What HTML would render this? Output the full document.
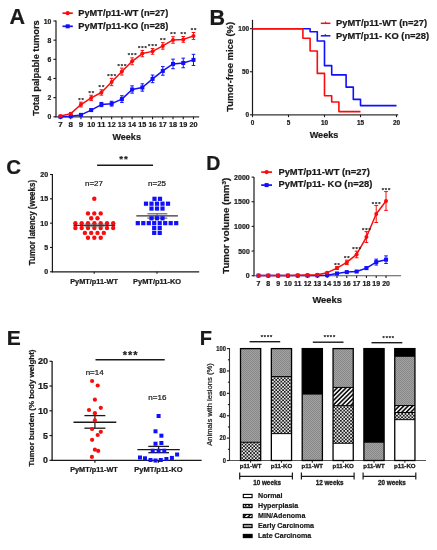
<!DOCTYPE html>
<html><head><meta charset="utf-8"><title>Figure</title>
<style>
html,body{margin:0;padding:0;background:#fff;}
body{width:437px;height:550px;overflow:hidden;}
svg{display:block;font-family:"Liberation Sans", sans-serif;filter:blur(0.45px);}
</style></head>
<body>
<svg width="437" height="550" viewBox="0 0 437 550">
<rect width="437" height="550" fill="#fff"/>
<text x="9.40" y="24.20" font-size="21.5" font-weight="bold" text-anchor="start" fill="#1a1a1a" stroke="#1a1a1a" stroke-width="0.22">A</text>
<line x1="56.00" y1="20.60" x2="56.00" y2="117.30" stroke="#1a1a1a" stroke-width="1.2"/>
<line x1="55.40" y1="116.80" x2="199.20" y2="116.80" stroke="#333" stroke-width="1.2"/>
<line x1="53.40" y1="116.80" x2="56.00" y2="116.80" stroke="#1a1a1a" stroke-width="1.1"/>
<text x="51.20" y="119.30" font-size="6.8" font-weight="bold" text-anchor="end" fill="#1a1a1a" stroke="#1a1a1a" stroke-width="0.22">0</text>
<line x1="53.40" y1="97.64" x2="56.00" y2="97.64" stroke="#1a1a1a" stroke-width="1.1"/>
<text x="51.20" y="100.14" font-size="6.8" font-weight="bold" text-anchor="end" fill="#1a1a1a" stroke="#1a1a1a" stroke-width="0.22">2</text>
<line x1="53.40" y1="78.48" x2="56.00" y2="78.48" stroke="#1a1a1a" stroke-width="1.1"/>
<text x="51.20" y="80.98" font-size="6.8" font-weight="bold" text-anchor="end" fill="#1a1a1a" stroke="#1a1a1a" stroke-width="0.22">4</text>
<line x1="53.40" y1="59.32" x2="56.00" y2="59.32" stroke="#1a1a1a" stroke-width="1.1"/>
<text x="51.20" y="61.82" font-size="6.8" font-weight="bold" text-anchor="end" fill="#1a1a1a" stroke="#1a1a1a" stroke-width="0.22">6</text>
<line x1="53.40" y1="40.16" x2="56.00" y2="40.16" stroke="#1a1a1a" stroke-width="1.1"/>
<text x="51.20" y="42.66" font-size="6.8" font-weight="bold" text-anchor="end" fill="#1a1a1a" stroke="#1a1a1a" stroke-width="0.22">8</text>
<line x1="53.40" y1="21.00" x2="56.00" y2="21.00" stroke="#1a1a1a" stroke-width="1.1"/>
<text x="51.20" y="23.50" font-size="6.8" font-weight="bold" text-anchor="end" fill="#1a1a1a" stroke="#1a1a1a" stroke-width="0.22">10</text>
<line x1="60.50" y1="116.80" x2="60.50" y2="119.20" stroke="#1a1a1a" stroke-width="1.1"/>
<text x="60.50" y="127.20" font-size="8.0" font-weight="bold" text-anchor="middle" fill="#1a1a1a" stroke="#1a1a1a" stroke-width="0.22">7</text>
<line x1="70.73" y1="116.80" x2="70.73" y2="119.20" stroke="#1a1a1a" stroke-width="1.1"/>
<text x="70.73" y="127.20" font-size="8.0" font-weight="bold" text-anchor="middle" fill="#1a1a1a" stroke="#1a1a1a" stroke-width="0.22">8</text>
<line x1="80.96" y1="116.80" x2="80.96" y2="119.20" stroke="#1a1a1a" stroke-width="1.1"/>
<text x="80.96" y="127.20" font-size="8.0" font-weight="bold" text-anchor="middle" fill="#1a1a1a" stroke="#1a1a1a" stroke-width="0.22">9</text>
<line x1="91.19" y1="116.80" x2="91.19" y2="119.20" stroke="#1a1a1a" stroke-width="1.1"/>
<text x="91.19" y="127.20" font-size="8.0" font-weight="bold" text-anchor="middle" fill="#1a1a1a" stroke="#1a1a1a" stroke-width="0.22" textLength="8.1" lengthAdjust="spacingAndGlyphs">10</text>
<line x1="101.42" y1="116.80" x2="101.42" y2="119.20" stroke="#1a1a1a" stroke-width="1.1"/>
<text x="101.42" y="127.20" font-size="8.0" font-weight="bold" text-anchor="middle" fill="#1a1a1a" stroke="#1a1a1a" stroke-width="0.22" textLength="8.1" lengthAdjust="spacingAndGlyphs">11</text>
<line x1="111.65" y1="116.80" x2="111.65" y2="119.20" stroke="#1a1a1a" stroke-width="1.1"/>
<text x="111.65" y="127.20" font-size="8.0" font-weight="bold" text-anchor="middle" fill="#1a1a1a" stroke="#1a1a1a" stroke-width="0.22" textLength="8.1" lengthAdjust="spacingAndGlyphs">12</text>
<line x1="121.88" y1="116.80" x2="121.88" y2="119.20" stroke="#1a1a1a" stroke-width="1.1"/>
<text x="121.88" y="127.20" font-size="8.0" font-weight="bold" text-anchor="middle" fill="#1a1a1a" stroke="#1a1a1a" stroke-width="0.22" textLength="8.1" lengthAdjust="spacingAndGlyphs">13</text>
<line x1="132.11" y1="116.80" x2="132.11" y2="119.20" stroke="#1a1a1a" stroke-width="1.1"/>
<text x="132.11" y="127.20" font-size="8.0" font-weight="bold" text-anchor="middle" fill="#1a1a1a" stroke="#1a1a1a" stroke-width="0.22" textLength="8.1" lengthAdjust="spacingAndGlyphs">14</text>
<line x1="142.34" y1="116.80" x2="142.34" y2="119.20" stroke="#1a1a1a" stroke-width="1.1"/>
<text x="142.34" y="127.20" font-size="8.0" font-weight="bold" text-anchor="middle" fill="#1a1a1a" stroke="#1a1a1a" stroke-width="0.22" textLength="8.1" lengthAdjust="spacingAndGlyphs">15</text>
<line x1="152.57" y1="116.80" x2="152.57" y2="119.20" stroke="#1a1a1a" stroke-width="1.1"/>
<text x="152.57" y="127.20" font-size="8.0" font-weight="bold" text-anchor="middle" fill="#1a1a1a" stroke="#1a1a1a" stroke-width="0.22" textLength="8.1" lengthAdjust="spacingAndGlyphs">16</text>
<line x1="162.80" y1="116.80" x2="162.80" y2="119.20" stroke="#1a1a1a" stroke-width="1.1"/>
<text x="162.80" y="127.20" font-size="8.0" font-weight="bold" text-anchor="middle" fill="#1a1a1a" stroke="#1a1a1a" stroke-width="0.22" textLength="8.1" lengthAdjust="spacingAndGlyphs">17</text>
<line x1="173.03" y1="116.80" x2="173.03" y2="119.20" stroke="#1a1a1a" stroke-width="1.1"/>
<text x="173.03" y="127.20" font-size="8.0" font-weight="bold" text-anchor="middle" fill="#1a1a1a" stroke="#1a1a1a" stroke-width="0.22" textLength="8.1" lengthAdjust="spacingAndGlyphs">18</text>
<line x1="183.26" y1="116.80" x2="183.26" y2="119.20" stroke="#1a1a1a" stroke-width="1.1"/>
<text x="183.26" y="127.20" font-size="8.0" font-weight="bold" text-anchor="middle" fill="#1a1a1a" stroke="#1a1a1a" stroke-width="0.22" textLength="8.1" lengthAdjust="spacingAndGlyphs">19</text>
<line x1="193.49" y1="116.80" x2="193.49" y2="119.20" stroke="#1a1a1a" stroke-width="1.1"/>
<text x="193.49" y="127.20" font-size="8.0" font-weight="bold" text-anchor="middle" fill="#1a1a1a" stroke="#1a1a1a" stroke-width="0.22" textLength="8.1" lengthAdjust="spacingAndGlyphs">20</text>
<text x="126.70" y="139.80" font-size="9.3" font-weight="bold" text-anchor="middle" fill="#1a1a1a" stroke="#1a1a1a" stroke-width="0.22" textLength="28.5" lengthAdjust="spacingAndGlyphs">Weeks</text>
<text x="39.00" y="68.00" font-size="9.2" font-weight="bold" text-anchor="middle" fill="#1a1a1a" stroke="#1a1a1a" stroke-width="0.22" textLength="95.5" lengthAdjust="spacingAndGlyphs" transform="rotate(-90 39.00 68.00)">Total palpable tumors</text>
<polyline points="60.50,116.80 70.73,116.32 80.96,114.88 91.19,110.09 101.42,104.54 111.65,103.68 121.88,99.08 132.11,89.50 142.34,87.49 152.57,78.86 162.80,70.91 173.03,63.92 183.26,62.96 193.49,59.89" fill="none" stroke="#1010fc" stroke-width="1.5" stroke-linejoin="round"/>
<line x1="60.50" y1="116.61" x2="60.50" y2="116.99" stroke="#1010fc" stroke-width="1.0"/>
<line x1="58.70" y1="116.61" x2="62.30" y2="116.61" stroke="#1010fc" stroke-width="1.0"/>
<line x1="58.70" y1="116.99" x2="62.30" y2="116.99" stroke="#1010fc" stroke-width="1.0"/>
<rect x="58.50" y="114.80" width="4.0" height="4.0" fill="#1010fc"/>
<line x1="70.73" y1="115.84" x2="70.73" y2="116.80" stroke="#1010fc" stroke-width="1.0"/>
<line x1="68.93" y1="115.84" x2="72.53" y2="115.84" stroke="#1010fc" stroke-width="1.0"/>
<line x1="68.93" y1="116.80" x2="72.53" y2="116.80" stroke="#1010fc" stroke-width="1.0"/>
<rect x="68.73" y="114.32" width="4.0" height="4.0" fill="#1010fc"/>
<line x1="80.96" y1="114.12" x2="80.96" y2="115.65" stroke="#1010fc" stroke-width="1.0"/>
<line x1="79.16" y1="114.12" x2="82.76" y2="114.12" stroke="#1010fc" stroke-width="1.0"/>
<line x1="79.16" y1="115.65" x2="82.76" y2="115.65" stroke="#1010fc" stroke-width="1.0"/>
<rect x="78.96" y="112.88" width="4.0" height="4.0" fill="#1010fc"/>
<line x1="91.19" y1="108.94" x2="91.19" y2="111.24" stroke="#1010fc" stroke-width="1.0"/>
<line x1="89.39" y1="108.94" x2="92.99" y2="108.94" stroke="#1010fc" stroke-width="1.0"/>
<line x1="89.39" y1="111.24" x2="92.99" y2="111.24" stroke="#1010fc" stroke-width="1.0"/>
<rect x="89.19" y="108.09" width="4.0" height="4.0" fill="#1010fc"/>
<line x1="101.42" y1="102.43" x2="101.42" y2="106.65" stroke="#1010fc" stroke-width="1.0"/>
<line x1="99.62" y1="102.43" x2="103.22" y2="102.43" stroke="#1010fc" stroke-width="1.0"/>
<line x1="99.62" y1="106.65" x2="103.22" y2="106.65" stroke="#1010fc" stroke-width="1.0"/>
<rect x="99.42" y="102.54" width="4.0" height="4.0" fill="#1010fc"/>
<line x1="111.65" y1="101.28" x2="111.65" y2="106.07" stroke="#1010fc" stroke-width="1.0"/>
<line x1="109.85" y1="101.28" x2="113.45" y2="101.28" stroke="#1010fc" stroke-width="1.0"/>
<line x1="109.85" y1="106.07" x2="113.45" y2="106.07" stroke="#1010fc" stroke-width="1.0"/>
<rect x="109.65" y="101.68" width="4.0" height="4.0" fill="#1010fc"/>
<line x1="121.88" y1="95.72" x2="121.88" y2="102.43" stroke="#1010fc" stroke-width="1.0"/>
<line x1="120.08" y1="95.72" x2="123.68" y2="95.72" stroke="#1010fc" stroke-width="1.0"/>
<line x1="120.08" y1="102.43" x2="123.68" y2="102.43" stroke="#1010fc" stroke-width="1.0"/>
<rect x="119.88" y="97.08" width="4.0" height="4.0" fill="#1010fc"/>
<line x1="132.11" y1="85.86" x2="132.11" y2="93.14" stroke="#1010fc" stroke-width="1.0"/>
<line x1="130.31" y1="85.86" x2="133.91" y2="85.86" stroke="#1010fc" stroke-width="1.0"/>
<line x1="130.31" y1="93.14" x2="133.91" y2="93.14" stroke="#1010fc" stroke-width="1.0"/>
<rect x="130.11" y="87.50" width="4.0" height="4.0" fill="#1010fc"/>
<line x1="142.34" y1="83.84" x2="142.34" y2="91.13" stroke="#1010fc" stroke-width="1.0"/>
<line x1="140.54" y1="83.84" x2="144.14" y2="83.84" stroke="#1010fc" stroke-width="1.0"/>
<line x1="140.54" y1="91.13" x2="144.14" y2="91.13" stroke="#1010fc" stroke-width="1.0"/>
<rect x="140.34" y="85.49" width="4.0" height="4.0" fill="#1010fc"/>
<line x1="152.57" y1="75.03" x2="152.57" y2="82.70" stroke="#1010fc" stroke-width="1.0"/>
<line x1="150.77" y1="75.03" x2="154.37" y2="75.03" stroke="#1010fc" stroke-width="1.0"/>
<line x1="150.77" y1="82.70" x2="154.37" y2="82.70" stroke="#1010fc" stroke-width="1.0"/>
<rect x="150.57" y="76.86" width="4.0" height="4.0" fill="#1010fc"/>
<line x1="162.80" y1="66.60" x2="162.80" y2="75.22" stroke="#1010fc" stroke-width="1.0"/>
<line x1="161.00" y1="66.60" x2="164.60" y2="66.60" stroke="#1010fc" stroke-width="1.0"/>
<line x1="161.00" y1="75.22" x2="164.60" y2="75.22" stroke="#1010fc" stroke-width="1.0"/>
<rect x="160.80" y="68.91" width="4.0" height="4.0" fill="#1010fc"/>
<line x1="173.03" y1="59.13" x2="173.03" y2="68.71" stroke="#1010fc" stroke-width="1.0"/>
<line x1="171.23" y1="59.13" x2="174.83" y2="59.13" stroke="#1010fc" stroke-width="1.0"/>
<line x1="171.23" y1="68.71" x2="174.83" y2="68.71" stroke="#1010fc" stroke-width="1.0"/>
<rect x="171.03" y="61.92" width="4.0" height="4.0" fill="#1010fc"/>
<line x1="183.26" y1="58.17" x2="183.26" y2="67.75" stroke="#1010fc" stroke-width="1.0"/>
<line x1="181.46" y1="58.17" x2="185.06" y2="58.17" stroke="#1010fc" stroke-width="1.0"/>
<line x1="181.46" y1="67.75" x2="185.06" y2="67.75" stroke="#1010fc" stroke-width="1.0"/>
<rect x="181.26" y="60.96" width="4.0" height="4.0" fill="#1010fc"/>
<line x1="193.49" y1="54.34" x2="193.49" y2="65.45" stroke="#1010fc" stroke-width="1.0"/>
<line x1="191.69" y1="54.34" x2="195.29" y2="54.34" stroke="#1010fc" stroke-width="1.0"/>
<line x1="191.69" y1="65.45" x2="195.29" y2="65.45" stroke="#1010fc" stroke-width="1.0"/>
<rect x="191.49" y="57.89" width="4.0" height="4.0" fill="#1010fc"/>
<polyline points="60.50,116.03 70.73,113.64 80.96,104.54 91.19,97.93 101.42,92.47 111.65,82.02 121.88,71.58 132.11,61.33 142.34,53.57 152.57,51.37 162.80,45.91 173.03,39.97 183.26,39.39 193.49,35.94" fill="none" stroke="#fa0c0c" stroke-width="1.5" stroke-linejoin="round"/>
<line x1="60.50" y1="115.55" x2="60.50" y2="116.51" stroke="#fa0c0c" stroke-width="1.0"/>
<line x1="58.70" y1="115.55" x2="62.30" y2="115.55" stroke="#fa0c0c" stroke-width="1.0"/>
<line x1="58.70" y1="116.51" x2="62.30" y2="116.51" stroke="#fa0c0c" stroke-width="1.0"/>
<circle cx="60.50" cy="116.03" r="2.0" fill="#fa0c0c"/>
<line x1="70.73" y1="112.68" x2="70.73" y2="114.60" stroke="#fa0c0c" stroke-width="1.0"/>
<line x1="68.93" y1="112.68" x2="72.53" y2="112.68" stroke="#fa0c0c" stroke-width="1.0"/>
<line x1="68.93" y1="114.60" x2="72.53" y2="114.60" stroke="#fa0c0c" stroke-width="1.0"/>
<circle cx="70.73" cy="113.64" r="2.0" fill="#fa0c0c"/>
<line x1="80.96" y1="102.14" x2="80.96" y2="106.93" stroke="#fa0c0c" stroke-width="1.0"/>
<line x1="79.16" y1="102.14" x2="82.76" y2="102.14" stroke="#fa0c0c" stroke-width="1.0"/>
<line x1="79.16" y1="106.93" x2="82.76" y2="106.93" stroke="#fa0c0c" stroke-width="1.0"/>
<circle cx="80.96" cy="104.54" r="2.0" fill="#fa0c0c"/>
<text x="78.16" y="101.60" font-size="5.9" font-weight="bold" fill="#2a2a2a" stroke="#2a2a2a" stroke-width="0.2" letter-spacing="1.00">**</text>
<line x1="91.19" y1="95.25" x2="91.19" y2="100.61" stroke="#fa0c0c" stroke-width="1.0"/>
<line x1="89.39" y1="95.25" x2="92.99" y2="95.25" stroke="#fa0c0c" stroke-width="1.0"/>
<line x1="89.39" y1="100.61" x2="92.99" y2="100.61" stroke="#fa0c0c" stroke-width="1.0"/>
<circle cx="91.19" cy="97.93" r="2.0" fill="#fa0c0c"/>
<text x="88.39" y="94.71" font-size="5.9" font-weight="bold" fill="#2a2a2a" stroke="#2a2a2a" stroke-width="0.2" letter-spacing="1.00">**</text>
<line x1="101.42" y1="89.78" x2="101.42" y2="95.15" stroke="#fa0c0c" stroke-width="1.0"/>
<line x1="99.62" y1="89.78" x2="103.22" y2="89.78" stroke="#fa0c0c" stroke-width="1.0"/>
<line x1="99.62" y1="95.15" x2="103.22" y2="95.15" stroke="#fa0c0c" stroke-width="1.0"/>
<circle cx="101.42" cy="92.47" r="2.0" fill="#fa0c0c"/>
<text x="98.62" y="89.25" font-size="5.9" font-weight="bold" fill="#2a2a2a" stroke="#2a2a2a" stroke-width="0.2" letter-spacing="1.00">**</text>
<line x1="111.65" y1="78.38" x2="111.65" y2="85.66" stroke="#fa0c0c" stroke-width="1.0"/>
<line x1="109.85" y1="78.38" x2="113.45" y2="78.38" stroke="#fa0c0c" stroke-width="1.0"/>
<line x1="109.85" y1="85.66" x2="113.45" y2="85.66" stroke="#fa0c0c" stroke-width="1.0"/>
<circle cx="111.65" cy="82.02" r="2.0" fill="#fa0c0c"/>
<text x="107.20" y="77.85" font-size="5.9" font-weight="bold" fill="#2a2a2a" stroke="#2a2a2a" stroke-width="0.2" letter-spacing="1.00">***</text>
<line x1="121.88" y1="68.13" x2="121.88" y2="75.03" stroke="#fa0c0c" stroke-width="1.0"/>
<line x1="120.08" y1="68.13" x2="123.68" y2="68.13" stroke="#fa0c0c" stroke-width="1.0"/>
<line x1="120.08" y1="75.03" x2="123.68" y2="75.03" stroke="#fa0c0c" stroke-width="1.0"/>
<circle cx="121.88" cy="71.58" r="2.0" fill="#fa0c0c"/>
<text x="117.43" y="67.60" font-size="5.9" font-weight="bold" fill="#2a2a2a" stroke="#2a2a2a" stroke-width="0.2" letter-spacing="1.00">***</text>
<line x1="132.11" y1="57.88" x2="132.11" y2="64.78" stroke="#fa0c0c" stroke-width="1.0"/>
<line x1="130.31" y1="57.88" x2="133.91" y2="57.88" stroke="#fa0c0c" stroke-width="1.0"/>
<line x1="130.31" y1="64.78" x2="133.91" y2="64.78" stroke="#fa0c0c" stroke-width="1.0"/>
<circle cx="132.11" cy="61.33" r="2.0" fill="#fa0c0c"/>
<text x="127.66" y="57.34" font-size="5.9" font-weight="bold" fill="#2a2a2a" stroke="#2a2a2a" stroke-width="0.2" letter-spacing="1.00">***</text>
<line x1="142.34" y1="50.41" x2="142.34" y2="56.73" stroke="#fa0c0c" stroke-width="1.0"/>
<line x1="140.54" y1="50.41" x2="144.14" y2="50.41" stroke="#fa0c0c" stroke-width="1.0"/>
<line x1="140.54" y1="56.73" x2="144.14" y2="56.73" stroke="#fa0c0c" stroke-width="1.0"/>
<circle cx="142.34" cy="53.57" r="2.0" fill="#fa0c0c"/>
<text x="137.89" y="49.87" font-size="5.9" font-weight="bold" fill="#2a2a2a" stroke="#2a2a2a" stroke-width="0.2" letter-spacing="1.00">***</text>
<line x1="152.57" y1="48.49" x2="152.57" y2="54.24" stroke="#fa0c0c" stroke-width="1.0"/>
<line x1="150.77" y1="48.49" x2="154.37" y2="48.49" stroke="#fa0c0c" stroke-width="1.0"/>
<line x1="150.77" y1="54.24" x2="154.37" y2="54.24" stroke="#fa0c0c" stroke-width="1.0"/>
<circle cx="152.57" cy="51.37" r="2.0" fill="#fa0c0c"/>
<text x="148.12" y="47.96" font-size="5.9" font-weight="bold" fill="#2a2a2a" stroke="#2a2a2a" stroke-width="0.2" letter-spacing="1.00">***</text>
<line x1="162.80" y1="42.65" x2="162.80" y2="49.17" stroke="#fa0c0c" stroke-width="1.0"/>
<line x1="161.00" y1="42.65" x2="164.60" y2="42.65" stroke="#fa0c0c" stroke-width="1.0"/>
<line x1="161.00" y1="49.17" x2="164.60" y2="49.17" stroke="#fa0c0c" stroke-width="1.0"/>
<circle cx="162.80" cy="45.91" r="2.0" fill="#fa0c0c"/>
<text x="160.00" y="42.11" font-size="5.9" font-weight="bold" fill="#2a2a2a" stroke="#2a2a2a" stroke-width="0.2" letter-spacing="1.00">**</text>
<line x1="173.03" y1="36.71" x2="173.03" y2="43.23" stroke="#fa0c0c" stroke-width="1.0"/>
<line x1="171.23" y1="36.71" x2="174.83" y2="36.71" stroke="#fa0c0c" stroke-width="1.0"/>
<line x1="171.23" y1="43.23" x2="174.83" y2="43.23" stroke="#fa0c0c" stroke-width="1.0"/>
<circle cx="173.03" cy="39.97" r="2.0" fill="#fa0c0c"/>
<text x="170.23" y="36.17" font-size="5.9" font-weight="bold" fill="#2a2a2a" stroke="#2a2a2a" stroke-width="0.2" letter-spacing="1.00">**</text>
<line x1="183.26" y1="36.52" x2="183.26" y2="42.27" stroke="#fa0c0c" stroke-width="1.0"/>
<line x1="181.46" y1="36.52" x2="185.06" y2="36.52" stroke="#fa0c0c" stroke-width="1.0"/>
<line x1="181.46" y1="42.27" x2="185.06" y2="42.27" stroke="#fa0c0c" stroke-width="1.0"/>
<circle cx="183.26" cy="39.39" r="2.0" fill="#fa0c0c"/>
<text x="180.46" y="35.98" font-size="5.9" font-weight="bold" fill="#2a2a2a" stroke="#2a2a2a" stroke-width="0.2" letter-spacing="1.00">**</text>
<line x1="193.49" y1="32.50" x2="193.49" y2="39.39" stroke="#fa0c0c" stroke-width="1.0"/>
<line x1="191.69" y1="32.50" x2="195.29" y2="32.50" stroke="#fa0c0c" stroke-width="1.0"/>
<line x1="191.69" y1="39.39" x2="195.29" y2="39.39" stroke="#fa0c0c" stroke-width="1.0"/>
<circle cx="193.49" cy="35.94" r="2.0" fill="#fa0c0c"/>
<text x="190.69" y="31.96" font-size="5.9" font-weight="bold" fill="#2a2a2a" stroke="#2a2a2a" stroke-width="0.2" letter-spacing="1.00">**</text>
<line x1="62.50" y1="13.20" x2="72.80" y2="13.20" stroke="#fa0c0c" stroke-width="1.7"/>
<circle cx="67.70" cy="13.20" r="2.1" fill="#fa0c0c"/>
<text x="78.30" y="15.90" font-size="9.0" font-weight="bold" text-anchor="start" fill="#1a1a1a" stroke="#1a1a1a" stroke-width="0.22" textLength="90" lengthAdjust="spacingAndGlyphs">PyMT/p11-WT (n=27)</text>
<line x1="62.50" y1="26.30" x2="72.80" y2="26.30" stroke="#1010fc" stroke-width="1.7"/>
<rect x="65.70" y="24.30" width="4.0" height="4.0" fill="#1010fc"/>
<text x="78.30" y="28.70" font-size="9.0" font-weight="bold" text-anchor="start" fill="#1a1a1a" stroke="#1a1a1a" stroke-width="0.22" textLength="90" lengthAdjust="spacingAndGlyphs">PyMT/p11-KO (n=28)</text>
<text x="209.40" y="24.60" font-size="21.5" font-weight="bold" text-anchor="start" fill="#1a1a1a" stroke="#1a1a1a" stroke-width="0.22">B</text>
<line x1="252.50" y1="19.80" x2="252.50" y2="115.30" stroke="#1a1a1a" stroke-width="1.2"/>
<line x1="251.90" y1="114.80" x2="398.20" y2="114.80" stroke="#333" stroke-width="1.2"/>
<line x1="249.90" y1="114.80" x2="252.50" y2="114.80" stroke="#1a1a1a" stroke-width="1.1"/>
<text x="249.00" y="117.00" font-size="6.4" font-weight="bold" text-anchor="end" fill="#1a1a1a" stroke="#1a1a1a" stroke-width="0.22">0</text>
<line x1="249.90" y1="71.75" x2="252.50" y2="71.75" stroke="#1a1a1a" stroke-width="1.1"/>
<text x="249.00" y="73.95" font-size="6.4" font-weight="bold" text-anchor="end" fill="#1a1a1a" stroke="#1a1a1a" stroke-width="0.22">50</text>
<line x1="249.90" y1="28.70" x2="252.50" y2="28.70" stroke="#1a1a1a" stroke-width="1.1"/>
<text x="249.00" y="30.90" font-size="6.4" font-weight="bold" text-anchor="end" fill="#1a1a1a" stroke="#1a1a1a" stroke-width="0.22">100</text>
<line x1="252.50" y1="114.80" x2="252.50" y2="117.20" stroke="#1a1a1a" stroke-width="1.1"/>
<text x="252.50" y="125.00" font-size="6.4" font-weight="bold" text-anchor="middle" fill="#1a1a1a" stroke="#1a1a1a" stroke-width="0.22">0</text>
<line x1="288.50" y1="114.80" x2="288.50" y2="117.20" stroke="#1a1a1a" stroke-width="1.1"/>
<text x="288.50" y="125.00" font-size="6.4" font-weight="bold" text-anchor="middle" fill="#1a1a1a" stroke="#1a1a1a" stroke-width="0.22">5</text>
<line x1="324.50" y1="114.80" x2="324.50" y2="117.20" stroke="#1a1a1a" stroke-width="1.1"/>
<text x="324.50" y="125.00" font-size="6.4" font-weight="bold" text-anchor="middle" fill="#1a1a1a" stroke="#1a1a1a" stroke-width="0.22">10</text>
<line x1="360.50" y1="114.80" x2="360.50" y2="117.20" stroke="#1a1a1a" stroke-width="1.1"/>
<text x="360.50" y="125.00" font-size="6.4" font-weight="bold" text-anchor="middle" fill="#1a1a1a" stroke="#1a1a1a" stroke-width="0.22">15</text>
<line x1="396.50" y1="114.80" x2="396.50" y2="117.20" stroke="#1a1a1a" stroke-width="1.1"/>
<text x="396.50" y="125.00" font-size="6.4" font-weight="bold" text-anchor="middle" fill="#1a1a1a" stroke="#1a1a1a" stroke-width="0.22">20</text>
<text x="324.00" y="138.00" font-size="9.3" font-weight="bold" text-anchor="middle" fill="#1a1a1a" stroke="#1a1a1a" stroke-width="0.22" textLength="28.6" lengthAdjust="spacingAndGlyphs">Weeks</text>
<text x="233.00" y="66.80" font-size="9.0" font-weight="bold" text-anchor="middle" fill="#1a1a1a" stroke="#1a1a1a" stroke-width="0.22" textLength="89.7" lengthAdjust="spacingAndGlyphs" transform="rotate(-90 233.00 66.80)">Tumor-free mice (%)</text>
<polyline points="252.50,28.70 310.10,28.70 310.10,31.80 317.30,31.80 317.30,41.01 324.50,41.01 324.50,65.64 331.70,65.64 331.70,74.85 346.10,74.85 346.10,87.16 353.30,87.16 353.30,99.39 360.50,99.39 360.50,105.59 396.50,105.59" fill="none" stroke="#1010fc" stroke-width="1.6" stroke-linejoin="round"/>
<polyline points="252.50,28.70 302.90,28.70 302.90,38.26 310.10,38.26 310.10,51.00 317.30,51.00 317.30,73.39 324.50,73.39 324.50,95.69 331.70,95.69 331.70,102.06 338.90,102.06 338.90,111.61 360.50,111.61" fill="none" stroke="#fa0c0c" stroke-width="1.6" stroke-linejoin="round"/>
<line x1="320.80" y1="23.30" x2="330.40" y2="23.30" stroke="#fa0c0c" stroke-width="1.5"/>
<line x1="325.60" y1="21.60" x2="325.60" y2="23.30" stroke="#fa0c0c" stroke-width="1.0"/>
<text x="336.00" y="26.00" font-size="9.0" font-weight="bold" text-anchor="start" fill="#1a1a1a" stroke="#1a1a1a" stroke-width="0.22" textLength="91" lengthAdjust="spacingAndGlyphs">PyMT/p11-WT (n=27)</text>
<line x1="320.80" y1="35.80" x2="330.40" y2="35.80" stroke="#1010fc" stroke-width="1.5"/>
<line x1="325.30" y1="34.10" x2="325.30" y2="35.80" stroke="#1010fc" stroke-width="1.0"/>
<text x="336.00" y="38.80" font-size="9.0" font-weight="bold" text-anchor="start" fill="#1a1a1a" stroke="#1a1a1a" stroke-width="0.22" textLength="93" lengthAdjust="spacingAndGlyphs">PyMT/p11- KO (n=28)</text>
<text x="6.20" y="173.50" font-size="20.5" font-weight="bold" text-anchor="start" fill="#1a1a1a" stroke="#1a1a1a" stroke-width="0.22">C</text>
<line x1="52.40" y1="174.00" x2="52.40" y2="272.30" stroke="#1a1a1a" stroke-width="1.2"/>
<line x1="51.80" y1="271.80" x2="199.20" y2="271.80" stroke="#1a1a1a" stroke-width="1.2"/>
<line x1="50.00" y1="271.80" x2="52.40" y2="271.80" stroke="#1a1a1a" stroke-width="1.1"/>
<text x="48.20" y="274.20" font-size="6.8" font-weight="bold" text-anchor="end" fill="#1a1a1a" stroke="#1a1a1a" stroke-width="0.22" textLength="3.9" lengthAdjust="spacingAndGlyphs">0</text>
<line x1="50.00" y1="247.48" x2="52.40" y2="247.48" stroke="#1a1a1a" stroke-width="1.1"/>
<text x="48.20" y="249.88" font-size="6.8" font-weight="bold" text-anchor="end" fill="#1a1a1a" stroke="#1a1a1a" stroke-width="0.22" textLength="3.9" lengthAdjust="spacingAndGlyphs">5</text>
<line x1="50.00" y1="223.15" x2="52.40" y2="223.15" stroke="#1a1a1a" stroke-width="1.1"/>
<text x="48.20" y="225.55" font-size="6.8" font-weight="bold" text-anchor="end" fill="#1a1a1a" stroke="#1a1a1a" stroke-width="0.22" textLength="7.9" lengthAdjust="spacingAndGlyphs">10</text>
<line x1="50.00" y1="198.82" x2="52.40" y2="198.82" stroke="#1a1a1a" stroke-width="1.1"/>
<text x="48.20" y="201.22" font-size="6.8" font-weight="bold" text-anchor="end" fill="#1a1a1a" stroke="#1a1a1a" stroke-width="0.22" textLength="7.9" lengthAdjust="spacingAndGlyphs">15</text>
<line x1="50.00" y1="174.50" x2="52.40" y2="174.50" stroke="#1a1a1a" stroke-width="1.1"/>
<text x="48.20" y="176.90" font-size="6.8" font-weight="bold" text-anchor="end" fill="#1a1a1a" stroke="#1a1a1a" stroke-width="0.22" textLength="7.9" lengthAdjust="spacingAndGlyphs">20</text>
<line x1="94.20" y1="271.80" x2="94.20" y2="273.80" stroke="#1a1a1a" stroke-width="1.1"/>
<line x1="157.00" y1="271.80" x2="157.00" y2="273.80" stroke="#1a1a1a" stroke-width="1.1"/>
<text x="94.05" y="283.50" font-size="6.9" font-weight="bold" text-anchor="middle" fill="#1a1a1a" stroke="#1a1a1a" stroke-width="0.22" textLength="47.7" lengthAdjust="spacingAndGlyphs">PyMT/p11-WT</text>
<text x="157.05" y="283.50" font-size="6.9" font-weight="bold" text-anchor="middle" fill="#1a1a1a" stroke="#1a1a1a" stroke-width="0.22" textLength="48.1" lengthAdjust="spacingAndGlyphs">PyMT/p11-KO</text>
<text x="35.50" y="222.60" font-size="8.4" font-weight="bold" text-anchor="middle" fill="#1a1a1a" stroke="#1a1a1a" stroke-width="0.22" textLength="85.3" lengthAdjust="spacingAndGlyphs" transform="rotate(-90 35.50 222.60)">Tumor latency (weeks)</text>
<line x1="97.10" y1="165.30" x2="153.00" y2="165.30" stroke="#1a1a1a" stroke-width="1.5"/>
<text x="119.34" y="162.12" font-size="9.8" font-weight="bold" fill="#1a1a1a" stroke="#1a1a1a" stroke-width="0.2" letter-spacing="0.89">**</text>
<text x="85.10" y="185.70" font-size="7.5" font-weight="normal" text-anchor="start" fill="#1a1a1a" stroke="#1a1a1a" stroke-width="0.22" textLength="17.8" lengthAdjust="spacingAndGlyphs">n=27</text>
<text x="148.10" y="185.70" font-size="7.5" font-weight="normal" text-anchor="start" fill="#1a1a1a" stroke="#1a1a1a" stroke-width="0.22" textLength="17.9" lengthAdjust="spacingAndGlyphs">n=25</text>
<circle cx="94.30" cy="198.82" r="2.2" fill="#fa0c0c"/>
<circle cx="88.00" cy="213.42" r="2.2" fill="#fa0c0c"/>
<circle cx="94.30" cy="213.42" r="2.2" fill="#fa0c0c"/>
<circle cx="100.70" cy="213.42" r="2.2" fill="#fa0c0c"/>
<circle cx="91.20" cy="218.29" r="2.2" fill="#fa0c0c"/>
<circle cx="97.50" cy="218.29" r="2.2" fill="#fa0c0c"/>
<circle cx="75.40" cy="223.15" r="2.2" fill="#fa0c0c"/>
<circle cx="81.70" cy="223.15" r="2.2" fill="#fa0c0c"/>
<circle cx="88.00" cy="223.15" r="2.2" fill="#fa0c0c"/>
<circle cx="94.40" cy="223.15" r="2.2" fill="#fa0c0c"/>
<circle cx="100.70" cy="223.15" r="2.2" fill="#fa0c0c"/>
<circle cx="107.00" cy="223.15" r="2.2" fill="#fa0c0c"/>
<circle cx="113.20" cy="223.15" r="2.2" fill="#fa0c0c"/>
<circle cx="75.40" cy="228.02" r="2.2" fill="#fa0c0c"/>
<circle cx="81.70" cy="228.02" r="2.2" fill="#fa0c0c"/>
<circle cx="88.00" cy="228.02" r="2.2" fill="#fa0c0c"/>
<circle cx="94.40" cy="228.02" r="2.2" fill="#fa0c0c"/>
<circle cx="100.70" cy="228.02" r="2.2" fill="#fa0c0c"/>
<circle cx="107.00" cy="228.02" r="2.2" fill="#fa0c0c"/>
<circle cx="113.20" cy="228.02" r="2.2" fill="#fa0c0c"/>
<circle cx="84.90" cy="232.88" r="2.2" fill="#fa0c0c"/>
<circle cx="91.20" cy="232.88" r="2.2" fill="#fa0c0c"/>
<circle cx="97.50" cy="232.88" r="2.2" fill="#fa0c0c"/>
<circle cx="103.80" cy="232.88" r="2.2" fill="#fa0c0c"/>
<circle cx="88.00" cy="237.75" r="2.2" fill="#fa0c0c"/>
<circle cx="94.30" cy="237.75" r="2.2" fill="#fa0c0c"/>
<circle cx="100.70" cy="237.75" r="2.2" fill="#fa0c0c"/>
<line x1="73.40" y1="225.40" x2="115.20" y2="225.40" stroke="#3a3a3a" stroke-width="1.3"/>
<line x1="84.50" y1="224.20" x2="104.50" y2="224.20" stroke="#666" stroke-width="0.8"/>
<line x1="84.50" y1="226.70" x2="104.50" y2="226.70" stroke="#666" stroke-width="0.8"/>
<line x1="136.30" y1="215.80" x2="177.90" y2="215.80" stroke="#333" stroke-width="1.3"/>
<line x1="147.40" y1="213.80" x2="167.30" y2="213.80" stroke="#555" stroke-width="1.1"/>
<line x1="147.40" y1="218.10" x2="167.30" y2="218.10" stroke="#555" stroke-width="1.1"/>
<line x1="157.00" y1="213.80" x2="157.00" y2="218.10" stroke="#555" stroke-width="1.0"/>
<rect x="152.40" y="196.72" width="4.2" height="4.2" fill="#1010fc"/>
<rect x="157.90" y="196.72" width="4.2" height="4.2" fill="#1010fc"/>
<rect x="143.90" y="201.59" width="4.2" height="4.2" fill="#1010fc"/>
<rect x="149.40" y="201.59" width="4.2" height="4.2" fill="#1010fc"/>
<rect x="154.90" y="201.59" width="4.2" height="4.2" fill="#1010fc"/>
<rect x="160.40" y="201.59" width="4.2" height="4.2" fill="#1010fc"/>
<rect x="165.90" y="201.59" width="4.2" height="4.2" fill="#1010fc"/>
<rect x="149.40" y="206.46" width="4.2" height="4.2" fill="#1010fc"/>
<rect x="154.90" y="206.46" width="4.2" height="4.2" fill="#1010fc"/>
<rect x="160.40" y="206.46" width="4.2" height="4.2" fill="#1010fc"/>
<rect x="149.40" y="216.19" width="4.2" height="4.2" fill="#1010fc"/>
<rect x="154.90" y="216.19" width="4.2" height="4.2" fill="#1010fc"/>
<rect x="160.40" y="216.19" width="4.2" height="4.2" fill="#1010fc"/>
<rect x="135.70" y="221.05" width="4.2" height="4.2" fill="#1010fc"/>
<rect x="141.20" y="221.05" width="4.2" height="4.2" fill="#1010fc"/>
<rect x="146.70" y="221.05" width="4.2" height="4.2" fill="#1010fc"/>
<rect x="152.10" y="221.05" width="4.2" height="4.2" fill="#1010fc"/>
<rect x="157.60" y="221.05" width="4.2" height="4.2" fill="#1010fc"/>
<rect x="163.10" y="221.05" width="4.2" height="4.2" fill="#1010fc"/>
<rect x="168.60" y="221.05" width="4.2" height="4.2" fill="#1010fc"/>
<rect x="174.10" y="221.05" width="4.2" height="4.2" fill="#1010fc"/>
<rect x="152.10" y="225.92" width="4.2" height="4.2" fill="#1010fc"/>
<rect x="157.60" y="225.92" width="4.2" height="4.2" fill="#1010fc"/>
<rect x="152.10" y="230.78" width="4.2" height="4.2" fill="#1010fc"/>
<rect x="157.60" y="230.78" width="4.2" height="4.2" fill="#1010fc"/>
<text x="206.20" y="169.50" font-size="19.5" font-weight="bold" text-anchor="start" fill="#1a1a1a" stroke="#1a1a1a" stroke-width="0.22">D</text>
<line x1="254.00" y1="177.00" x2="254.00" y2="276.20" stroke="#1a1a1a" stroke-width="1.2"/>
<line x1="253.40" y1="275.70" x2="401.00" y2="275.70" stroke="#555" stroke-width="1.1"/>
<line x1="251.60" y1="275.70" x2="254.00" y2="275.70" stroke="#1a1a1a" stroke-width="1.1"/>
<text x="249.70" y="278.20" font-size="7.0" font-weight="bold" text-anchor="end" fill="#1a1a1a" stroke="#1a1a1a" stroke-width="0.22" textLength="3.9" lengthAdjust="spacingAndGlyphs">0</text>
<line x1="251.60" y1="251.05" x2="254.00" y2="251.05" stroke="#1a1a1a" stroke-width="1.1"/>
<text x="249.70" y="253.55" font-size="7.0" font-weight="bold" text-anchor="end" fill="#1a1a1a" stroke="#1a1a1a" stroke-width="0.22" textLength="11.4" lengthAdjust="spacingAndGlyphs">500</text>
<line x1="251.60" y1="226.40" x2="254.00" y2="226.40" stroke="#1a1a1a" stroke-width="1.1"/>
<text x="249.70" y="228.90" font-size="7.0" font-weight="bold" text-anchor="end" fill="#1a1a1a" stroke="#1a1a1a" stroke-width="0.22" textLength="15.6" lengthAdjust="spacingAndGlyphs">1000</text>
<line x1="251.60" y1="201.75" x2="254.00" y2="201.75" stroke="#1a1a1a" stroke-width="1.1"/>
<text x="249.70" y="204.25" font-size="7.0" font-weight="bold" text-anchor="end" fill="#1a1a1a" stroke="#1a1a1a" stroke-width="0.22" textLength="15.6" lengthAdjust="spacingAndGlyphs">1500</text>
<line x1="251.60" y1="177.10" x2="254.00" y2="177.10" stroke="#1a1a1a" stroke-width="1.1"/>
<text x="249.70" y="179.60" font-size="7.0" font-weight="bold" text-anchor="end" fill="#1a1a1a" stroke="#1a1a1a" stroke-width="0.22" textLength="15.6" lengthAdjust="spacingAndGlyphs">2000</text>
<line x1="258.50" y1="275.70" x2="258.50" y2="277.90" stroke="#1a1a1a" stroke-width="1.1"/>
<text x="258.50" y="285.80" font-size="7" font-weight="bold" text-anchor="middle" fill="#1a1a1a" stroke="#1a1a1a" stroke-width="0.22">7</text>
<line x1="268.31" y1="275.70" x2="268.31" y2="277.90" stroke="#1a1a1a" stroke-width="1.1"/>
<text x="268.31" y="285.80" font-size="7" font-weight="bold" text-anchor="middle" fill="#1a1a1a" stroke="#1a1a1a" stroke-width="0.22">8</text>
<line x1="278.12" y1="275.70" x2="278.12" y2="277.90" stroke="#1a1a1a" stroke-width="1.1"/>
<text x="278.12" y="285.80" font-size="7" font-weight="bold" text-anchor="middle" fill="#1a1a1a" stroke="#1a1a1a" stroke-width="0.22">9</text>
<line x1="287.93" y1="275.70" x2="287.93" y2="277.90" stroke="#1a1a1a" stroke-width="1.1"/>
<text x="287.93" y="285.80" font-size="7" font-weight="bold" text-anchor="middle" fill="#1a1a1a" stroke="#1a1a1a" stroke-width="0.22">10</text>
<line x1="297.74" y1="275.70" x2="297.74" y2="277.90" stroke="#1a1a1a" stroke-width="1.1"/>
<text x="297.74" y="285.80" font-size="7" font-weight="bold" text-anchor="middle" fill="#1a1a1a" stroke="#1a1a1a" stroke-width="0.22">11</text>
<line x1="307.55" y1="275.70" x2="307.55" y2="277.90" stroke="#1a1a1a" stroke-width="1.1"/>
<text x="307.55" y="285.80" font-size="7" font-weight="bold" text-anchor="middle" fill="#1a1a1a" stroke="#1a1a1a" stroke-width="0.22">12</text>
<line x1="317.36" y1="275.70" x2="317.36" y2="277.90" stroke="#1a1a1a" stroke-width="1.1"/>
<text x="317.36" y="285.80" font-size="7" font-weight="bold" text-anchor="middle" fill="#1a1a1a" stroke="#1a1a1a" stroke-width="0.22">13</text>
<line x1="327.17" y1="275.70" x2="327.17" y2="277.90" stroke="#1a1a1a" stroke-width="1.1"/>
<text x="327.17" y="285.80" font-size="7" font-weight="bold" text-anchor="middle" fill="#1a1a1a" stroke="#1a1a1a" stroke-width="0.22">14</text>
<line x1="336.98" y1="275.70" x2="336.98" y2="277.90" stroke="#1a1a1a" stroke-width="1.1"/>
<text x="336.98" y="285.80" font-size="7" font-weight="bold" text-anchor="middle" fill="#1a1a1a" stroke="#1a1a1a" stroke-width="0.22">15</text>
<line x1="346.79" y1="275.70" x2="346.79" y2="277.90" stroke="#1a1a1a" stroke-width="1.1"/>
<text x="346.79" y="285.80" font-size="7" font-weight="bold" text-anchor="middle" fill="#1a1a1a" stroke="#1a1a1a" stroke-width="0.22">16</text>
<line x1="356.60" y1="275.70" x2="356.60" y2="277.90" stroke="#1a1a1a" stroke-width="1.1"/>
<text x="356.60" y="285.80" font-size="7" font-weight="bold" text-anchor="middle" fill="#1a1a1a" stroke="#1a1a1a" stroke-width="0.22">17</text>
<line x1="366.41" y1="275.70" x2="366.41" y2="277.90" stroke="#1a1a1a" stroke-width="1.1"/>
<text x="366.41" y="285.80" font-size="7" font-weight="bold" text-anchor="middle" fill="#1a1a1a" stroke="#1a1a1a" stroke-width="0.22">18</text>
<line x1="376.22" y1="275.70" x2="376.22" y2="277.90" stroke="#1a1a1a" stroke-width="1.1"/>
<text x="376.22" y="285.80" font-size="7" font-weight="bold" text-anchor="middle" fill="#1a1a1a" stroke="#1a1a1a" stroke-width="0.22">19</text>
<line x1="386.03" y1="275.70" x2="386.03" y2="277.90" stroke="#1a1a1a" stroke-width="1.1"/>
<text x="386.03" y="285.80" font-size="7" font-weight="bold" text-anchor="middle" fill="#1a1a1a" stroke="#1a1a1a" stroke-width="0.22">20</text>
<text x="327.20" y="302.60" font-size="9.3" font-weight="bold" text-anchor="middle" fill="#1a1a1a" stroke="#1a1a1a" stroke-width="0.22" textLength="29.5" lengthAdjust="spacingAndGlyphs">Weeks</text>
<text x="229.40" y="225.80" font-size="8.6" font-weight="bold" text-anchor="middle" fill="#1a1a1a" stroke="#1a1a1a" stroke-width="0.22" textLength="96" lengthAdjust="spacingAndGlyphs" transform="rotate(-90 229.40 225.80)">Tumor volume (mm<tspan font-size="5.5" dy="-3.5">3</tspan><tspan dy="3.5">)</tspan></text>
<polyline points="258.50,275.60 268.31,275.60 278.12,275.60 287.93,275.60 297.74,275.60 307.55,275.55 317.36,275.45 327.17,275.21 336.98,273.48 346.79,272.10 356.60,271.51 366.41,268.11 376.22,262.09 386.03,259.68" fill="none" stroke="#1010fc" stroke-width="1.5" stroke-linejoin="round"/>
<line x1="258.50" y1="275.50" x2="258.50" y2="275.70" stroke="#1010fc" stroke-width="1.0"/>
<line x1="256.70" y1="275.50" x2="260.30" y2="275.50" stroke="#1010fc" stroke-width="1.0"/>
<line x1="256.70" y1="275.70" x2="260.30" y2="275.70" stroke="#1010fc" stroke-width="1.0"/>
<rect x="256.50" y="273.60" width="4.0" height="4.0" fill="#1010fc"/>
<line x1="268.31" y1="275.50" x2="268.31" y2="275.70" stroke="#1010fc" stroke-width="1.0"/>
<line x1="266.51" y1="275.50" x2="270.11" y2="275.50" stroke="#1010fc" stroke-width="1.0"/>
<line x1="266.51" y1="275.70" x2="270.11" y2="275.70" stroke="#1010fc" stroke-width="1.0"/>
<rect x="266.31" y="273.60" width="4.0" height="4.0" fill="#1010fc"/>
<line x1="278.12" y1="275.50" x2="278.12" y2="275.70" stroke="#1010fc" stroke-width="1.0"/>
<line x1="276.32" y1="275.50" x2="279.92" y2="275.50" stroke="#1010fc" stroke-width="1.0"/>
<line x1="276.32" y1="275.70" x2="279.92" y2="275.70" stroke="#1010fc" stroke-width="1.0"/>
<rect x="276.12" y="273.60" width="4.0" height="4.0" fill="#1010fc"/>
<line x1="287.93" y1="275.50" x2="287.93" y2="275.70" stroke="#1010fc" stroke-width="1.0"/>
<line x1="286.13" y1="275.50" x2="289.73" y2="275.50" stroke="#1010fc" stroke-width="1.0"/>
<line x1="286.13" y1="275.70" x2="289.73" y2="275.70" stroke="#1010fc" stroke-width="1.0"/>
<rect x="285.93" y="273.60" width="4.0" height="4.0" fill="#1010fc"/>
<line x1="297.74" y1="275.50" x2="297.74" y2="275.70" stroke="#1010fc" stroke-width="1.0"/>
<line x1="295.94" y1="275.50" x2="299.54" y2="275.50" stroke="#1010fc" stroke-width="1.0"/>
<line x1="295.94" y1="275.70" x2="299.54" y2="275.70" stroke="#1010fc" stroke-width="1.0"/>
<rect x="295.74" y="273.60" width="4.0" height="4.0" fill="#1010fc"/>
<line x1="307.55" y1="275.45" x2="307.55" y2="275.65" stroke="#1010fc" stroke-width="1.0"/>
<line x1="305.75" y1="275.45" x2="309.35" y2="275.45" stroke="#1010fc" stroke-width="1.0"/>
<line x1="305.75" y1="275.65" x2="309.35" y2="275.65" stroke="#1010fc" stroke-width="1.0"/>
<rect x="305.55" y="273.55" width="4.0" height="4.0" fill="#1010fc"/>
<line x1="317.36" y1="275.31" x2="317.36" y2="275.60" stroke="#1010fc" stroke-width="1.0"/>
<line x1="315.56" y1="275.31" x2="319.16" y2="275.31" stroke="#1010fc" stroke-width="1.0"/>
<line x1="315.56" y1="275.60" x2="319.16" y2="275.60" stroke="#1010fc" stroke-width="1.0"/>
<rect x="315.36" y="273.45" width="4.0" height="4.0" fill="#1010fc"/>
<line x1="327.17" y1="274.91" x2="327.17" y2="275.50" stroke="#1010fc" stroke-width="1.0"/>
<line x1="325.37" y1="274.91" x2="328.97" y2="274.91" stroke="#1010fc" stroke-width="1.0"/>
<line x1="325.37" y1="275.50" x2="328.97" y2="275.50" stroke="#1010fc" stroke-width="1.0"/>
<rect x="325.17" y="273.21" width="4.0" height="4.0" fill="#1010fc"/>
<line x1="336.98" y1="272.99" x2="336.98" y2="273.97" stroke="#1010fc" stroke-width="1.0"/>
<line x1="335.18" y1="272.99" x2="338.78" y2="272.99" stroke="#1010fc" stroke-width="1.0"/>
<line x1="335.18" y1="273.97" x2="338.78" y2="273.97" stroke="#1010fc" stroke-width="1.0"/>
<rect x="334.98" y="271.48" width="4.0" height="4.0" fill="#1010fc"/>
<line x1="346.79" y1="271.36" x2="346.79" y2="272.84" stroke="#1010fc" stroke-width="1.0"/>
<line x1="344.99" y1="271.36" x2="348.59" y2="271.36" stroke="#1010fc" stroke-width="1.0"/>
<line x1="344.99" y1="272.84" x2="348.59" y2="272.84" stroke="#1010fc" stroke-width="1.0"/>
<rect x="344.79" y="270.10" width="4.0" height="4.0" fill="#1010fc"/>
<line x1="356.60" y1="270.62" x2="356.60" y2="272.40" stroke="#1010fc" stroke-width="1.0"/>
<line x1="354.80" y1="270.62" x2="358.40" y2="270.62" stroke="#1010fc" stroke-width="1.0"/>
<line x1="354.80" y1="272.40" x2="358.40" y2="272.40" stroke="#1010fc" stroke-width="1.0"/>
<rect x="354.60" y="269.51" width="4.0" height="4.0" fill="#1010fc"/>
<line x1="366.41" y1="266.88" x2="366.41" y2="269.34" stroke="#1010fc" stroke-width="1.0"/>
<line x1="364.61" y1="266.88" x2="368.21" y2="266.88" stroke="#1010fc" stroke-width="1.0"/>
<line x1="364.61" y1="269.34" x2="368.21" y2="269.34" stroke="#1010fc" stroke-width="1.0"/>
<rect x="364.41" y="266.11" width="4.0" height="4.0" fill="#1010fc"/>
<line x1="376.22" y1="259.14" x2="376.22" y2="265.05" stroke="#1010fc" stroke-width="1.0"/>
<line x1="374.42" y1="259.14" x2="378.02" y2="259.14" stroke="#1010fc" stroke-width="1.0"/>
<line x1="374.42" y1="265.05" x2="378.02" y2="265.05" stroke="#1010fc" stroke-width="1.0"/>
<rect x="374.22" y="260.09" width="4.0" height="4.0" fill="#1010fc"/>
<line x1="386.03" y1="255.88" x2="386.03" y2="263.47" stroke="#1010fc" stroke-width="1.0"/>
<line x1="384.23" y1="255.88" x2="387.83" y2="255.88" stroke="#1010fc" stroke-width="1.0"/>
<line x1="384.23" y1="263.47" x2="387.83" y2="263.47" stroke="#1010fc" stroke-width="1.0"/>
<rect x="384.03" y="257.68" width="4.0" height="4.0" fill="#1010fc"/>
<polyline points="258.50,275.55 268.31,275.50 278.12,275.45 287.93,275.40 297.74,275.31 307.55,275.11 317.36,274.71 327.17,272.69 336.98,268.11 346.79,262.39 356.60,254.45 366.41,237.05 376.22,213.98 386.03,200.96" fill="none" stroke="#fa0c0c" stroke-width="1.5" stroke-linejoin="round"/>
<line x1="258.50" y1="275.40" x2="258.50" y2="275.70" stroke="#fa0c0c" stroke-width="1.0"/>
<line x1="256.60" y1="275.40" x2="260.40" y2="275.40" stroke="#fa0c0c" stroke-width="1.0"/>
<line x1="256.60" y1="275.70" x2="260.40" y2="275.70" stroke="#fa0c0c" stroke-width="1.0"/>
<circle cx="258.50" cy="275.55" r="2.0" fill="#fa0c0c"/>
<line x1="268.31" y1="275.35" x2="268.31" y2="275.65" stroke="#fa0c0c" stroke-width="1.0"/>
<line x1="266.41" y1="275.35" x2="270.21" y2="275.35" stroke="#fa0c0c" stroke-width="1.0"/>
<line x1="266.41" y1="275.65" x2="270.21" y2="275.65" stroke="#fa0c0c" stroke-width="1.0"/>
<circle cx="268.31" cy="275.50" r="2.0" fill="#fa0c0c"/>
<line x1="278.12" y1="275.31" x2="278.12" y2="275.60" stroke="#fa0c0c" stroke-width="1.0"/>
<line x1="276.22" y1="275.31" x2="280.02" y2="275.31" stroke="#fa0c0c" stroke-width="1.0"/>
<line x1="276.22" y1="275.60" x2="280.02" y2="275.60" stroke="#fa0c0c" stroke-width="1.0"/>
<circle cx="278.12" cy="275.45" r="2.0" fill="#fa0c0c"/>
<line x1="287.93" y1="275.26" x2="287.93" y2="275.55" stroke="#fa0c0c" stroke-width="1.0"/>
<line x1="286.03" y1="275.26" x2="289.83" y2="275.26" stroke="#fa0c0c" stroke-width="1.0"/>
<line x1="286.03" y1="275.55" x2="289.83" y2="275.55" stroke="#fa0c0c" stroke-width="1.0"/>
<circle cx="287.93" cy="275.40" r="2.0" fill="#fa0c0c"/>
<line x1="297.74" y1="275.11" x2="297.74" y2="275.50" stroke="#fa0c0c" stroke-width="1.0"/>
<line x1="295.84" y1="275.11" x2="299.64" y2="275.11" stroke="#fa0c0c" stroke-width="1.0"/>
<line x1="295.84" y1="275.50" x2="299.64" y2="275.50" stroke="#fa0c0c" stroke-width="1.0"/>
<circle cx="297.74" cy="275.31" r="2.0" fill="#fa0c0c"/>
<line x1="307.55" y1="274.86" x2="307.55" y2="275.35" stroke="#fa0c0c" stroke-width="1.0"/>
<line x1="305.65" y1="274.86" x2="309.45" y2="274.86" stroke="#fa0c0c" stroke-width="1.0"/>
<line x1="305.65" y1="275.35" x2="309.45" y2="275.35" stroke="#fa0c0c" stroke-width="1.0"/>
<circle cx="307.55" cy="275.11" r="2.0" fill="#fa0c0c"/>
<line x1="317.36" y1="274.32" x2="317.36" y2="275.11" stroke="#fa0c0c" stroke-width="1.0"/>
<line x1="315.46" y1="274.32" x2="319.26" y2="274.32" stroke="#fa0c0c" stroke-width="1.0"/>
<line x1="315.46" y1="275.11" x2="319.26" y2="275.11" stroke="#fa0c0c" stroke-width="1.0"/>
<circle cx="317.36" cy="274.71" r="2.0" fill="#fa0c0c"/>
<line x1="327.17" y1="271.95" x2="327.17" y2="273.43" stroke="#fa0c0c" stroke-width="1.0"/>
<line x1="325.27" y1="271.95" x2="329.07" y2="271.95" stroke="#fa0c0c" stroke-width="1.0"/>
<line x1="325.27" y1="273.43" x2="329.07" y2="273.43" stroke="#fa0c0c" stroke-width="1.0"/>
<circle cx="327.17" cy="272.69" r="2.0" fill="#fa0c0c"/>
<line x1="336.98" y1="266.73" x2="336.98" y2="269.49" stroke="#fa0c0c" stroke-width="1.0"/>
<line x1="335.08" y1="266.73" x2="338.88" y2="266.73" stroke="#fa0c0c" stroke-width="1.0"/>
<line x1="335.08" y1="269.49" x2="338.88" y2="269.49" stroke="#fa0c0c" stroke-width="1.0"/>
<circle cx="336.98" cy="268.11" r="2.0" fill="#fa0c0c"/>
<text x="334.23" y="266.89" font-size="5.9" font-weight="bold" fill="#2a2a2a" stroke="#2a2a2a" stroke-width="0.2" letter-spacing="0.90">**</text>
<line x1="346.79" y1="260.17" x2="346.79" y2="264.61" stroke="#fa0c0c" stroke-width="1.0"/>
<line x1="344.89" y1="260.17" x2="348.69" y2="260.17" stroke="#fa0c0c" stroke-width="1.0"/>
<line x1="344.89" y1="264.61" x2="348.69" y2="264.61" stroke="#fa0c0c" stroke-width="1.0"/>
<circle cx="346.79" cy="262.39" r="2.0" fill="#fa0c0c"/>
<text x="344.04" y="260.33" font-size="5.9" font-weight="bold" fill="#2a2a2a" stroke="#2a2a2a" stroke-width="0.2" letter-spacing="0.90">**</text>
<line x1="356.60" y1="251.15" x2="356.60" y2="257.75" stroke="#fa0c0c" stroke-width="1.0"/>
<line x1="354.70" y1="251.15" x2="358.50" y2="251.15" stroke="#fa0c0c" stroke-width="1.0"/>
<line x1="354.70" y1="257.75" x2="358.50" y2="257.75" stroke="#fa0c0c" stroke-width="1.0"/>
<circle cx="356.60" cy="254.45" r="2.0" fill="#fa0c0c"/>
<text x="352.25" y="251.31" font-size="5.9" font-weight="bold" fill="#2a2a2a" stroke="#2a2a2a" stroke-width="0.2" letter-spacing="0.90">***</text>
<line x1="366.41" y1="231.63" x2="366.41" y2="242.47" stroke="#fa0c0c" stroke-width="1.0"/>
<line x1="364.51" y1="231.63" x2="368.31" y2="231.63" stroke="#fa0c0c" stroke-width="1.0"/>
<line x1="364.51" y1="242.47" x2="368.31" y2="242.47" stroke="#fa0c0c" stroke-width="1.0"/>
<circle cx="366.41" cy="237.05" r="2.0" fill="#fa0c0c"/>
<text x="362.06" y="231.79" font-size="5.9" font-weight="bold" fill="#2a2a2a" stroke="#2a2a2a" stroke-width="0.2" letter-spacing="0.90">***</text>
<line x1="376.22" y1="205.45" x2="376.22" y2="222.51" stroke="#fa0c0c" stroke-width="1.0"/>
<line x1="374.32" y1="205.45" x2="378.12" y2="205.45" stroke="#fa0c0c" stroke-width="1.0"/>
<line x1="374.32" y1="222.51" x2="378.12" y2="222.51" stroke="#fa0c0c" stroke-width="1.0"/>
<circle cx="376.22" cy="213.98" r="2.0" fill="#fa0c0c"/>
<text x="371.87" y="205.61" font-size="5.9" font-weight="bold" fill="#2a2a2a" stroke="#2a2a2a" stroke-width="0.2" letter-spacing="0.90">***</text>
<line x1="386.03" y1="191.59" x2="386.03" y2="210.33" stroke="#fa0c0c" stroke-width="1.0"/>
<line x1="384.13" y1="191.59" x2="387.93" y2="191.59" stroke="#fa0c0c" stroke-width="1.0"/>
<line x1="384.13" y1="210.33" x2="387.93" y2="210.33" stroke="#fa0c0c" stroke-width="1.0"/>
<circle cx="386.03" cy="200.96" r="2.0" fill="#fa0c0c"/>
<text x="381.68" y="191.76" font-size="5.9" font-weight="bold" fill="#2a2a2a" stroke="#2a2a2a" stroke-width="0.2" letter-spacing="0.90">***</text>
<line x1="261.20" y1="172.10" x2="272.00" y2="172.10" stroke="#fa0c0c" stroke-width="1.7"/>
<circle cx="266.60" cy="172.10" r="2.1" fill="#fa0c0c"/>
<text x="278.40" y="174.80" font-size="9.0" font-weight="bold" text-anchor="start" fill="#1a1a1a" stroke="#1a1a1a" stroke-width="0.22" textLength="91.5" lengthAdjust="spacingAndGlyphs">PyMT/p11-WT (n=27)</text>
<line x1="261.20" y1="185.10" x2="272.00" y2="185.10" stroke="#1010fc" stroke-width="1.7"/>
<rect x="264.60" y="183.10" width="4.0" height="4.0" fill="#1010fc"/>
<text x="278.40" y="187.40" font-size="9.0" font-weight="bold" text-anchor="start" fill="#1a1a1a" stroke="#1a1a1a" stroke-width="0.22" textLength="94" lengthAdjust="spacingAndGlyphs">PyMT/p11- KO (n=28)</text>
<text x="6.80" y="345.20" font-size="21" font-weight="bold" text-anchor="start" fill="#1a1a1a" stroke="#1a1a1a" stroke-width="0.22">E</text>
<line x1="52.10" y1="361.00" x2="52.10" y2="460.90" stroke="#1a1a1a" stroke-width="1.3"/>
<line x1="51.50" y1="460.30" x2="201.60" y2="460.30" stroke="#1a1a1a" stroke-width="1.3"/>
<line x1="49.50" y1="460.30" x2="52.10" y2="460.30" stroke="#1a1a1a" stroke-width="1.2"/>
<text x="48.00" y="463.30" font-size="8.4" font-weight="bold" text-anchor="end" fill="#1a1a1a" stroke="#1a1a1a" stroke-width="0.22" textLength="4.9" lengthAdjust="spacingAndGlyphs">0</text>
<line x1="49.50" y1="435.55" x2="52.10" y2="435.55" stroke="#1a1a1a" stroke-width="1.2"/>
<text x="48.00" y="438.55" font-size="8.4" font-weight="bold" text-anchor="end" fill="#1a1a1a" stroke="#1a1a1a" stroke-width="0.22" textLength="4.9" lengthAdjust="spacingAndGlyphs">5</text>
<line x1="49.50" y1="410.80" x2="52.10" y2="410.80" stroke="#1a1a1a" stroke-width="1.2"/>
<text x="48.00" y="413.80" font-size="8.4" font-weight="bold" text-anchor="end" fill="#1a1a1a" stroke="#1a1a1a" stroke-width="0.22" textLength="10.1" lengthAdjust="spacingAndGlyphs">10</text>
<line x1="49.50" y1="386.05" x2="52.10" y2="386.05" stroke="#1a1a1a" stroke-width="1.2"/>
<text x="48.00" y="389.05" font-size="8.4" font-weight="bold" text-anchor="end" fill="#1a1a1a" stroke="#1a1a1a" stroke-width="0.22" textLength="10.1" lengthAdjust="spacingAndGlyphs">15</text>
<line x1="49.50" y1="361.30" x2="52.10" y2="361.30" stroke="#1a1a1a" stroke-width="1.2"/>
<text x="48.00" y="364.30" font-size="8.4" font-weight="bold" text-anchor="end" fill="#1a1a1a" stroke="#1a1a1a" stroke-width="0.22" textLength="10.1" lengthAdjust="spacingAndGlyphs">20</text>
<line x1="94.90" y1="460.30" x2="94.90" y2="462.70" stroke="#1a1a1a" stroke-width="1.2"/>
<line x1="158.40" y1="460.30" x2="158.40" y2="462.70" stroke="#1a1a1a" stroke-width="1.2"/>
<text x="94.00" y="472.10" font-size="6.6" font-weight="bold" text-anchor="middle" fill="#1a1a1a" stroke="#1a1a1a" stroke-width="0.22" textLength="47.7" lengthAdjust="spacingAndGlyphs">PyMT/p11-WT</text>
<text x="158.40" y="472.10" font-size="6.6" font-weight="bold" text-anchor="middle" fill="#1a1a1a" stroke="#1a1a1a" stroke-width="0.22" textLength="48.2" lengthAdjust="spacingAndGlyphs">PyMT/p11-KO</text>
<text x="33.70" y="408.00" font-size="7.6" font-weight="bold" text-anchor="middle" fill="#1a1a1a" stroke="#1a1a1a" stroke-width="0.22" textLength="117" lengthAdjust="spacingAndGlyphs" transform="rotate(-90 33.70 408.00)">Tumor burden (% body weight)</text>
<line x1="95.50" y1="359.70" x2="164.70" y2="359.70" stroke="#1a1a1a" stroke-width="1.5"/>
<text x="122.66" y="358.52" font-size="11.0" font-weight="bold" fill="#1a1a1a" stroke="#1a1a1a" stroke-width="0.2" letter-spacing="1.02">***</text>
<text x="85.70" y="374.60" font-size="7.2" font-weight="normal" text-anchor="start" fill="#1a1a1a" stroke="#1a1a1a" stroke-width="0.22" textLength="17.9" lengthAdjust="spacingAndGlyphs">n=14</text>
<text x="148.30" y="399.60" font-size="7.2" font-weight="normal" text-anchor="start" fill="#1a1a1a" stroke="#1a1a1a" stroke-width="0.22" textLength="18.1" lengthAdjust="spacingAndGlyphs">n=16</text>
<line x1="73.50" y1="422.20" x2="116.30" y2="422.20" stroke="#1a1a1a" stroke-width="1.4"/>
<line x1="84.40" y1="415.60" x2="105.40" y2="415.60" stroke="#1a1a1a" stroke-width="1.3"/>
<line x1="84.40" y1="428.20" x2="105.40" y2="428.20" stroke="#1a1a1a" stroke-width="1.3"/>
<line x1="94.90" y1="415.60" x2="94.90" y2="428.20" stroke="#1a1a1a" stroke-width="1.2"/>
<circle cx="92.10" cy="381.00" r="2.1" fill="#fa0c0c"/>
<circle cx="97.70" cy="385.50" r="2.1" fill="#fa0c0c"/>
<circle cx="94.90" cy="399.70" r="2.1" fill="#fa0c0c"/>
<circle cx="89.00" cy="410.00" r="2.1" fill="#fa0c0c"/>
<circle cx="100.80" cy="407.80" r="2.1" fill="#fa0c0c"/>
<circle cx="94.90" cy="413.20" r="2.1" fill="#fa0c0c"/>
<circle cx="94.90" cy="420.40" r="2.1" fill="#fa0c0c"/>
<circle cx="92.10" cy="429.00" r="2.1" fill="#fa0c0c"/>
<circle cx="100.80" cy="431.80" r="2.1" fill="#fa0c0c"/>
<circle cx="97.70" cy="435.00" r="2.1" fill="#fa0c0c"/>
<circle cx="92.10" cy="439.80" r="2.1" fill="#fa0c0c"/>
<circle cx="94.90" cy="449.70" r="2.1" fill="#fa0c0c"/>
<circle cx="98.20" cy="450.90" r="2.1" fill="#fa0c0c"/>
<circle cx="91.90" cy="456.90" r="2.1" fill="#fa0c0c"/>
<line x1="137.40" y1="449.60" x2="179.80" y2="449.60" stroke="#1a1a1a" stroke-width="1.4"/>
<line x1="148.30" y1="446.40" x2="169.00" y2="446.40" stroke="#1a1a1a" stroke-width="1.3"/>
<line x1="148.30" y1="452.70" x2="169.00" y2="452.70" stroke="#1a1a1a" stroke-width="1.3"/>
<line x1="158.60" y1="446.40" x2="158.60" y2="452.70" stroke="#1a1a1a" stroke-width="1.2"/>
<rect x="156.60" y="414.00" width="4.0" height="4.0" fill="#1010fc"/>
<rect x="153.50" y="429.30" width="4.0" height="4.0" fill="#1010fc"/>
<rect x="159.40" y="433.70" width="4.0" height="4.0" fill="#1010fc"/>
<rect x="153.50" y="441.70" width="4.0" height="4.0" fill="#1010fc"/>
<rect x="159.40" y="441.00" width="4.0" height="4.0" fill="#1010fc"/>
<rect x="150.70" y="448.70" width="4.0" height="4.0" fill="#1010fc"/>
<rect x="156.60" y="448.70" width="4.0" height="4.0" fill="#1010fc"/>
<rect x="162.30" y="448.70" width="4.0" height="4.0" fill="#1010fc"/>
<rect x="175.10" y="452.50" width="4.0" height="4.0" fill="#1010fc"/>
<rect x="138.00" y="455.50" width="4.0" height="4.0" fill="#1010fc"/>
<rect x="143.00" y="456.30" width="4.0" height="4.0" fill="#1010fc"/>
<rect x="148.50" y="458.00" width="4.0" height="4.0" fill="#1010fc"/>
<rect x="153.50" y="458.50" width="4.0" height="4.0" fill="#1010fc"/>
<rect x="158.80" y="458.00" width="4.0" height="4.0" fill="#1010fc"/>
<rect x="164.40" y="457.00" width="4.0" height="4.0" fill="#1010fc"/>
<rect x="169.90" y="455.90" width="4.0" height="4.0" fill="#1010fc"/>
<defs>
<pattern id="pEC" width="2" height="2" patternUnits="userSpaceOnUse"><rect width="2" height="2" fill="#a2a2a2"/><rect width="1" height="1" fill="#888"/><rect x="1" y="1" width="1" height="1" fill="#888"/></pattern>
<pattern id="pHP" width="3.4" height="3.4" patternUnits="userSpaceOnUse"><rect width="3.4" height="3.4" fill="#1c1c1c"/><rect width="1.7" height="1.7" fill="#e8e8e8"/><rect x="1.7" y="1.7" width="1.7" height="1.7" fill="#e8e8e8"/></pattern>
<pattern id="pMN" width="3.15" height="3.15" patternUnits="userSpaceOnUse" patternTransform="rotate(45)"><rect width="3.15" height="3.15" fill="#111"/><rect width="1.55" height="3.15" fill="#f4f4f4"/></pattern>
</defs>
<text x="199.80" y="344.80" font-size="20" font-weight="bold" text-anchor="start" fill="#1a1a1a" stroke="#1a1a1a" stroke-width="0.22">F</text>
<line x1="229.50" y1="348.00" x2="229.50" y2="461.00" stroke="#333" stroke-width="1.1"/>
<line x1="228.90" y1="460.50" x2="426.00" y2="460.50" stroke="#555" stroke-width="1.0"/>
<line x1="226.90" y1="460.50" x2="229.50" y2="460.50" stroke="#1a1a1a" stroke-width="1.1"/>
<text x="225.90" y="462.80" font-size="6.6" font-weight="bold" text-anchor="end" fill="#1a1a1a" stroke="#1a1a1a" stroke-width="0.22" textLength="3.2" lengthAdjust="spacingAndGlyphs">0</text>
<line x1="227.90" y1="449.31" x2="229.50" y2="449.31" stroke="#1a1a1a" stroke-width="1.1"/>
<line x1="226.90" y1="438.12" x2="229.50" y2="438.12" stroke="#1a1a1a" stroke-width="1.1"/>
<text x="225.90" y="440.42" font-size="6.6" font-weight="bold" text-anchor="end" fill="#1a1a1a" stroke="#1a1a1a" stroke-width="0.22" textLength="6.4" lengthAdjust="spacingAndGlyphs">20</text>
<line x1="227.90" y1="426.93" x2="229.50" y2="426.93" stroke="#1a1a1a" stroke-width="1.1"/>
<line x1="226.90" y1="415.74" x2="229.50" y2="415.74" stroke="#1a1a1a" stroke-width="1.1"/>
<text x="225.90" y="418.04" font-size="6.6" font-weight="bold" text-anchor="end" fill="#1a1a1a" stroke="#1a1a1a" stroke-width="0.22" textLength="6.4" lengthAdjust="spacingAndGlyphs">40</text>
<line x1="227.90" y1="404.55" x2="229.50" y2="404.55" stroke="#1a1a1a" stroke-width="1.1"/>
<line x1="226.90" y1="393.36" x2="229.50" y2="393.36" stroke="#1a1a1a" stroke-width="1.1"/>
<text x="225.90" y="395.66" font-size="6.6" font-weight="bold" text-anchor="end" fill="#1a1a1a" stroke="#1a1a1a" stroke-width="0.22" textLength="6.4" lengthAdjust="spacingAndGlyphs">60</text>
<line x1="227.90" y1="382.17" x2="229.50" y2="382.17" stroke="#1a1a1a" stroke-width="1.1"/>
<line x1="226.90" y1="370.98" x2="229.50" y2="370.98" stroke="#1a1a1a" stroke-width="1.1"/>
<text x="225.90" y="373.28" font-size="6.6" font-weight="bold" text-anchor="end" fill="#1a1a1a" stroke="#1a1a1a" stroke-width="0.22" textLength="6.4" lengthAdjust="spacingAndGlyphs">80</text>
<line x1="227.90" y1="359.79" x2="229.50" y2="359.79" stroke="#1a1a1a" stroke-width="1.1"/>
<line x1="226.90" y1="348.60" x2="229.50" y2="348.60" stroke="#1a1a1a" stroke-width="1.1"/>
<text x="225.90" y="350.90" font-size="6.6" font-weight="bold" text-anchor="end" fill="#1a1a1a" stroke="#1a1a1a" stroke-width="0.22" textLength="9.6" lengthAdjust="spacingAndGlyphs">100</text>
<text x="211.50" y="404.50" font-size="7.6" font-weight="normal" text-anchor="middle" fill="#1a1a1a" stroke="#1a1a1a" stroke-width="0.22" textLength="82.7" lengthAdjust="spacingAndGlyphs" transform="rotate(-90 211.50 404.50)">Animals with lesions (%)</text>
<rect x="240.50" y="348.60" width="20.2" height="93.66" fill="url(#pEC)"/>
<rect x="240.50" y="442.26" width="20.2" height="18.24" fill="url(#pHP)"/>
<line x1="240.50" y1="442.26" x2="260.70" y2="442.26" stroke="#000" stroke-width="1.0"/>
<rect x="240.50" y="348.60" width="20.2" height="111.90" fill="none" stroke="#000" stroke-width="1.3"/>
<line x1="250.60" y1="460.50" x2="250.60" y2="462.70" stroke="#1a1a1a" stroke-width="1.0"/>
<text x="250.60" y="468.40" font-size="6.2" font-weight="bold" text-anchor="middle" fill="#1a1a1a" stroke="#1a1a1a" stroke-width="0.3" textLength="21.5" lengthAdjust="spacingAndGlyphs">p11-WT</text>
<rect x="271.35" y="348.60" width="20.2" height="27.97" fill="url(#pEC)"/>
<rect x="271.35" y="376.57" width="20.2" height="57.07" fill="url(#pHP)"/>
<rect x="271.35" y="433.64" width="20.2" height="26.86" fill="#ffffff"/>
<line x1="271.35" y1="376.57" x2="291.55" y2="376.57" stroke="#000" stroke-width="1.0"/>
<line x1="271.35" y1="433.64" x2="291.55" y2="433.64" stroke="#000" stroke-width="1.0"/>
<rect x="271.35" y="348.60" width="20.2" height="111.90" fill="none" stroke="#000" stroke-width="1.3"/>
<line x1="281.45" y1="460.50" x2="281.45" y2="462.70" stroke="#1a1a1a" stroke-width="1.0"/>
<text x="281.45" y="468.40" font-size="6.2" font-weight="bold" text-anchor="middle" fill="#1a1a1a" stroke="#1a1a1a" stroke-width="0.3" textLength="21.5" lengthAdjust="spacingAndGlyphs">p11-KO</text>
<rect x="302.20" y="348.60" width="20.2" height="45.54" fill="#000000"/>
<rect x="302.20" y="394.14" width="20.2" height="66.36" fill="url(#pEC)"/>
<line x1="302.20" y1="394.14" x2="322.40" y2="394.14" stroke="#000" stroke-width="1.0"/>
<rect x="302.20" y="348.60" width="20.2" height="111.90" fill="none" stroke="#000" stroke-width="1.3"/>
<line x1="312.30" y1="460.50" x2="312.30" y2="462.70" stroke="#1a1a1a" stroke-width="1.0"/>
<text x="312.30" y="468.40" font-size="6.2" font-weight="bold" text-anchor="middle" fill="#1a1a1a" stroke="#1a1a1a" stroke-width="0.3" textLength="21.5" lengthAdjust="spacingAndGlyphs">p11-WT</text>
<rect x="333.05" y="348.60" width="20.2" height="38.83" fill="url(#pEC)"/>
<rect x="333.05" y="387.43" width="20.2" height="18.24" fill="url(#pMN)"/>
<rect x="333.05" y="405.67" width="20.2" height="37.60" fill="url(#pHP)"/>
<rect x="333.05" y="443.27" width="20.2" height="17.23" fill="#ffffff"/>
<line x1="333.05" y1="387.43" x2="353.25" y2="387.43" stroke="#000" stroke-width="1.0"/>
<line x1="333.05" y1="405.67" x2="353.25" y2="405.67" stroke="#000" stroke-width="1.0"/>
<line x1="333.05" y1="443.27" x2="353.25" y2="443.27" stroke="#000" stroke-width="1.0"/>
<rect x="333.05" y="348.60" width="20.2" height="111.90" fill="none" stroke="#000" stroke-width="1.3"/>
<line x1="343.15" y1="460.50" x2="343.15" y2="462.70" stroke="#1a1a1a" stroke-width="1.0"/>
<text x="343.15" y="468.40" font-size="6.2" font-weight="bold" text-anchor="middle" fill="#1a1a1a" stroke="#1a1a1a" stroke-width="0.3" textLength="21.5" lengthAdjust="spacingAndGlyphs">p11-KO</text>
<rect x="363.90" y="348.60" width="20.2" height="93.66" fill="#000000"/>
<rect x="363.90" y="442.26" width="20.2" height="18.24" fill="url(#pEC)"/>
<line x1="363.90" y1="442.26" x2="384.10" y2="442.26" stroke="#000" stroke-width="1.0"/>
<rect x="363.90" y="348.60" width="20.2" height="111.90" fill="none" stroke="#000" stroke-width="1.3"/>
<line x1="374.00" y1="460.50" x2="374.00" y2="462.70" stroke="#1a1a1a" stroke-width="1.0"/>
<text x="374.00" y="468.40" font-size="6.2" font-weight="bold" text-anchor="middle" fill="#1a1a1a" stroke="#1a1a1a" stroke-width="0.3" textLength="21.5" lengthAdjust="spacingAndGlyphs">p11-WT</text>
<rect x="394.75" y="348.60" width="20.2" height="7.72" fill="#000000"/>
<rect x="394.75" y="356.32" width="20.2" height="49.24" fill="url(#pEC)"/>
<rect x="394.75" y="405.56" width="20.2" height="6.94" fill="url(#pMN)"/>
<rect x="394.75" y="412.49" width="20.2" height="7.16" fill="url(#pHP)"/>
<rect x="394.75" y="419.66" width="20.2" height="40.84" fill="#ffffff"/>
<line x1="394.75" y1="356.32" x2="414.95" y2="356.32" stroke="#000" stroke-width="1.0"/>
<line x1="394.75" y1="405.56" x2="414.95" y2="405.56" stroke="#000" stroke-width="1.0"/>
<line x1="394.75" y1="412.49" x2="414.95" y2="412.49" stroke="#000" stroke-width="1.0"/>
<line x1="394.75" y1="419.66" x2="414.95" y2="419.66" stroke="#000" stroke-width="1.0"/>
<rect x="394.75" y="348.60" width="20.2" height="111.90" fill="none" stroke="#000" stroke-width="1.3"/>
<line x1="404.85" y1="460.50" x2="404.85" y2="462.70" stroke="#1a1a1a" stroke-width="1.0"/>
<text x="404.85" y="468.40" font-size="6.2" font-weight="bold" text-anchor="middle" fill="#1a1a1a" stroke="#1a1a1a" stroke-width="0.3" textLength="21.5" lengthAdjust="spacingAndGlyphs">p11-KO</text>
<line x1="239.70" y1="476.30" x2="292.40" y2="476.30" stroke="#1a1a1a" stroke-width="1.2"/>
<line x1="239.70" y1="472.60" x2="239.70" y2="479.60" stroke="#1a1a1a" stroke-width="1.2"/>
<line x1="292.40" y1="472.60" x2="292.40" y2="479.60" stroke="#1a1a1a" stroke-width="1.2"/>
<text x="267.05" y="484.60" font-size="6.8" font-weight="bold" text-anchor="middle" fill="#1a1a1a" stroke="#1a1a1a" stroke-width="0.3" textLength="27.8" lengthAdjust="spacingAndGlyphs">10 weeks</text>
<line x1="249.60" y1="341.70" x2="280.20" y2="341.70" stroke="#1a1a1a" stroke-width="1.4"/>
<text x="260.76" y="338.51" font-size="5.6" font-weight="bold" fill="#1a1a1a" stroke="#1a1a1a" stroke-width="0.2" letter-spacing="0.92">****</text>
<line x1="301.40" y1="476.30" x2="354.10" y2="476.30" stroke="#1a1a1a" stroke-width="1.2"/>
<line x1="301.40" y1="472.60" x2="301.40" y2="479.60" stroke="#1a1a1a" stroke-width="1.2"/>
<line x1="354.10" y1="472.60" x2="354.10" y2="479.60" stroke="#1a1a1a" stroke-width="1.2"/>
<text x="329.55" y="484.60" font-size="6.8" font-weight="bold" text-anchor="middle" fill="#1a1a1a" stroke="#1a1a1a" stroke-width="0.3" textLength="27.8" lengthAdjust="spacingAndGlyphs">12 weeks</text>
<line x1="312.80" y1="342.20" x2="343.50" y2="342.20" stroke="#1a1a1a" stroke-width="1.4"/>
<text x="323.66" y="339.11" font-size="5.6" font-weight="bold" fill="#1a1a1a" stroke="#1a1a1a" stroke-width="0.2" letter-spacing="0.92">****</text>
<line x1="363.10" y1="476.30" x2="415.80" y2="476.30" stroke="#1a1a1a" stroke-width="1.2"/>
<line x1="363.10" y1="472.60" x2="363.10" y2="479.60" stroke="#1a1a1a" stroke-width="1.2"/>
<line x1="415.80" y1="472.60" x2="415.80" y2="479.60" stroke="#1a1a1a" stroke-width="1.2"/>
<text x="391.85" y="484.60" font-size="6.8" font-weight="bold" text-anchor="middle" fill="#1a1a1a" stroke="#1a1a1a" stroke-width="0.3" textLength="27.8" lengthAdjust="spacingAndGlyphs">20 weeks</text>
<line x1="371.50" y1="342.70" x2="402.30" y2="342.70" stroke="#1a1a1a" stroke-width="1.4"/>
<text x="382.56" y="339.71" font-size="5.6" font-weight="bold" fill="#1a1a1a" stroke="#1a1a1a" stroke-width="0.2" letter-spacing="0.92">****</text>
<rect x="243.3" y="494.40" width="8.8" height="3.2" fill="#ffffff" stroke="#000" stroke-width="1.1"/>
<text x="258.00" y="498.20" font-size="7.5" font-weight="bold" text-anchor="start" fill="#1a1a1a" stroke="#1a1a1a" stroke-width="0.22" textLength="24.47" lengthAdjust="spacingAndGlyphs">Normal</text>
<rect x="243.3" y="504.40" width="8.8" height="3.2" fill="url(#pHP)" stroke="#000" stroke-width="1.1"/>
<text x="258.00" y="508.20" font-size="7.5" font-weight="bold" text-anchor="start" fill="#1a1a1a" stroke="#1a1a1a" stroke-width="0.22" textLength="40.27" lengthAdjust="spacingAndGlyphs">Hyperplasia</text>
<rect x="243.3" y="514.40" width="8.8" height="3.2" fill="url(#pMN)" stroke="#000" stroke-width="1.1"/>
<text x="258.00" y="518.20" font-size="7.5" font-weight="bold" text-anchor="start" fill="#1a1a1a" stroke="#1a1a1a" stroke-width="0.22" textLength="47.35" lengthAdjust="spacingAndGlyphs">MIN/Adenoma</text>
<rect x="243.3" y="524.40" width="8.8" height="3.2" fill="url(#pEC)" stroke="#000" stroke-width="1.1"/>
<text x="258.00" y="528.20" font-size="7.5" font-weight="bold" text-anchor="start" fill="#1a1a1a" stroke="#1a1a1a" stroke-width="0.22" textLength="56.06" lengthAdjust="spacingAndGlyphs">Early Carcinoma</text>
<rect x="243.3" y="534.40" width="8.8" height="3.2" fill="#000000" stroke="#000" stroke-width="1.1"/>
<text x="258.00" y="538.20" font-size="7.5" font-weight="bold" text-anchor="start" fill="#1a1a1a" stroke="#1a1a1a" stroke-width="0.22" textLength="53.29" lengthAdjust="spacingAndGlyphs">Late Carcinoma</text>
</svg>
</body></html>
